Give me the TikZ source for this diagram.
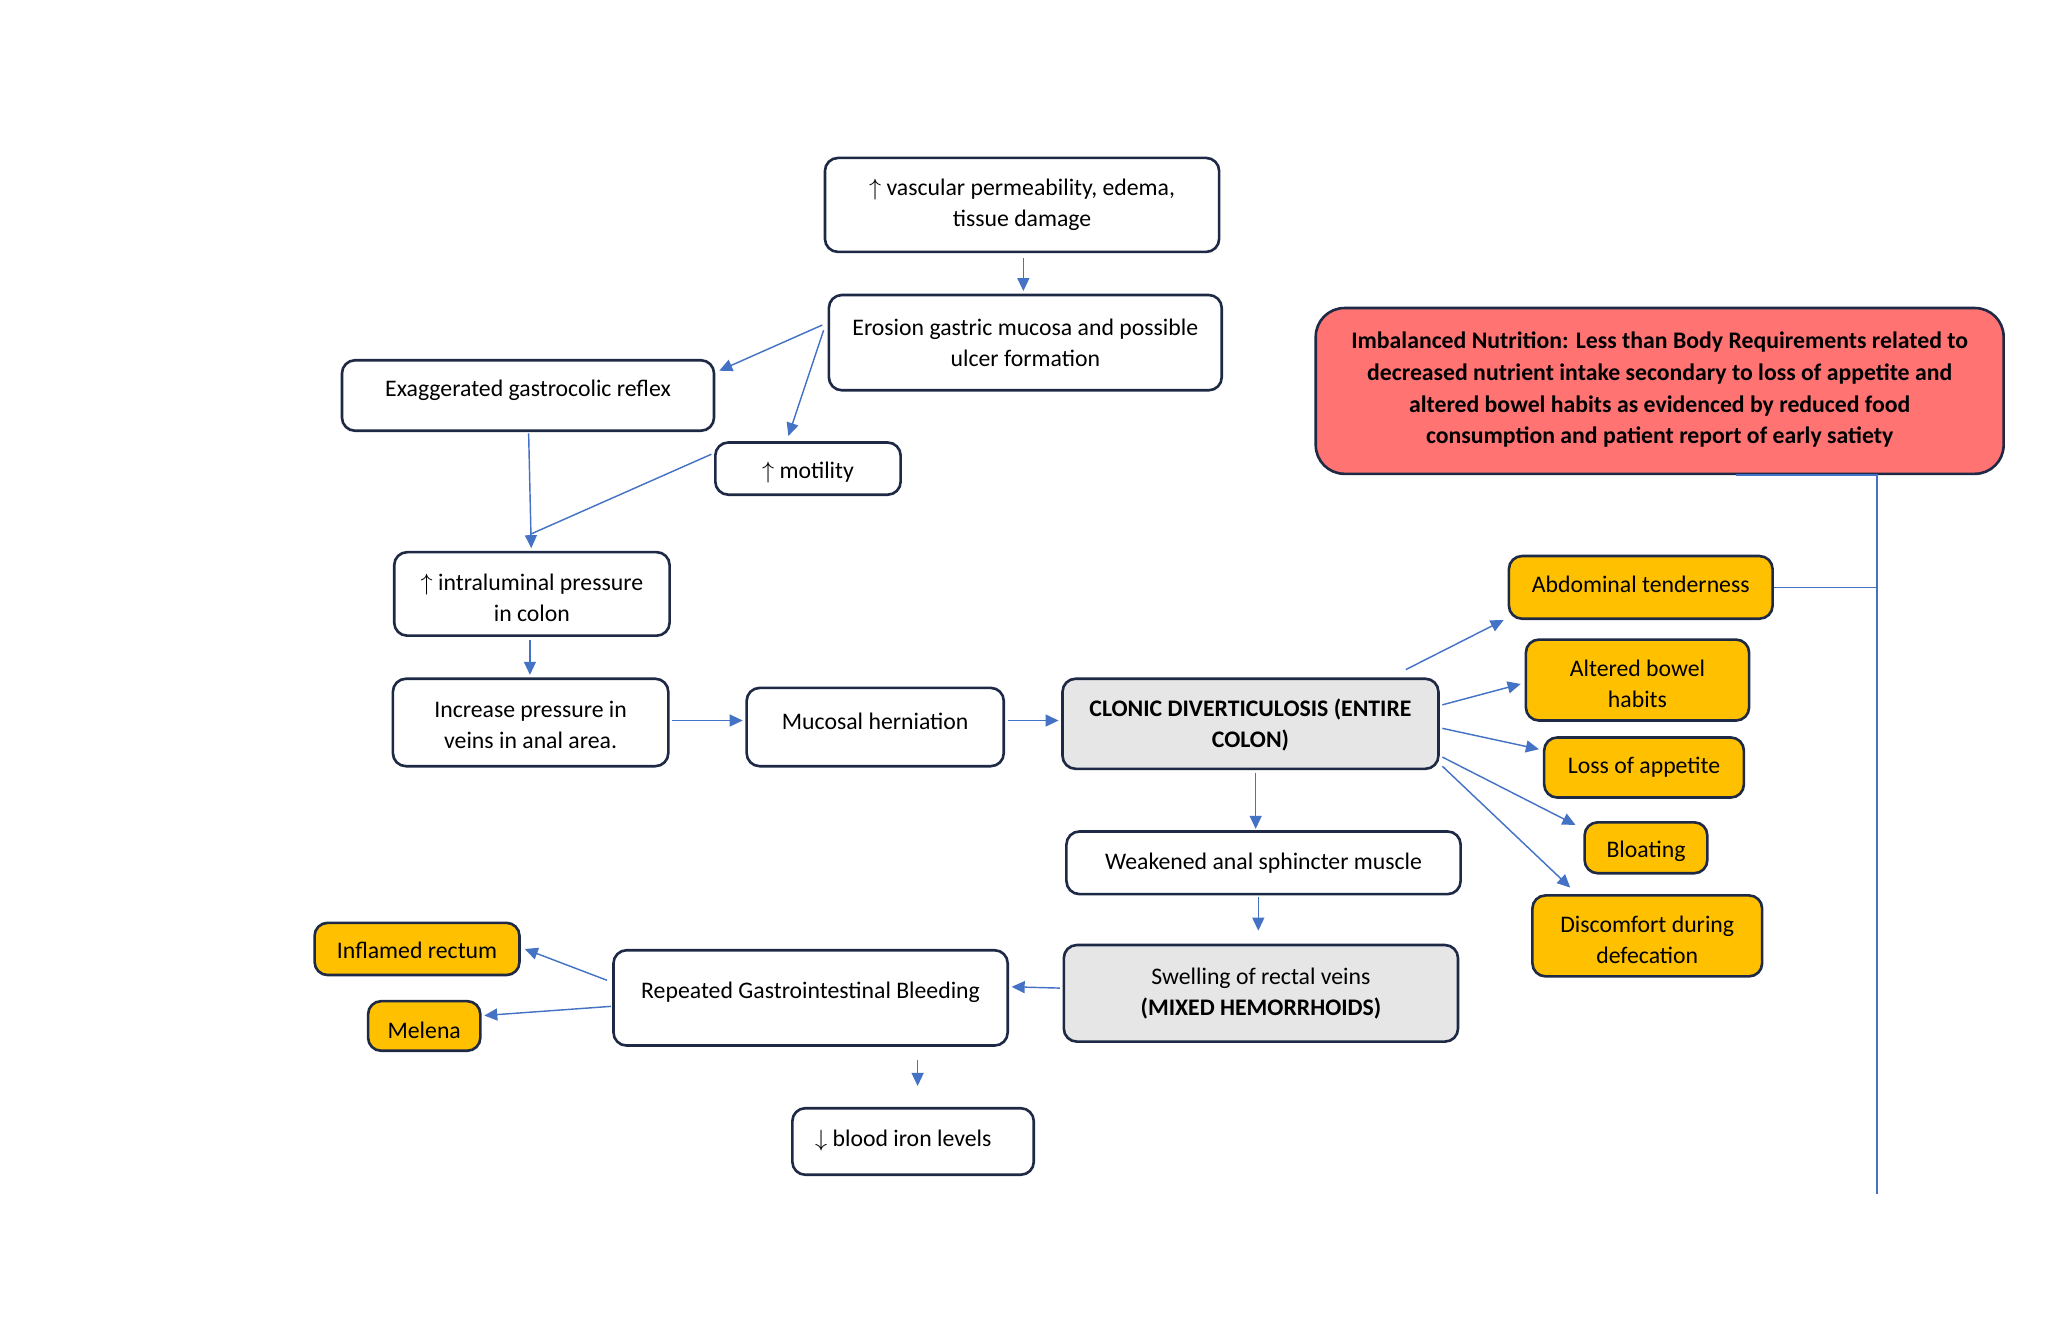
\documentclass[tikz,border=0pt]{standalone}
\usepackage{fontspec}
\setmainfont{Carlito}
\usetikzlibrary{arrows.meta,calc}
\definecolor{lnblue}{HTML}{4472C4}
\definecolor{navy}{HTML}{1E2A45}
\definecolor{ygold}{HTML}{FFC000}
\definecolor{rbox}{HTML}{FF7373}
\definecolor{gbox}{HTML}{E6E6E6}
\tikzset{
  box/.style={draw=navy, line width=1pt, rounded corners=5pt, fill=white, inner sep=0pt, align=center, font=\fontsize{9.1pt}{12pt}\selectfont},
  graybox/.style={box, fill=gbox},
  ybox/.style={box, fill=ygold},
  redbox/.style={box, fill=rbox, rounded corners=11pt, font=\fontsize{9.1pt}{12.2pt}\selectfont\bfseries},
  txt/.style={inner sep=0pt, align=center, font=\fontsize{9.1pt}{12pt}\selectfont},
  conn/.style={draw=lnblue, line width=0.55pt, -{Triangle[length=5pt,width=4.6pt]}},
  plain/.style={draw=lnblue, line width=0.55pt}
}
\begin{document}
\begin{tikzpicture}[x=0.5pt,y=-0.5pt]
\path[use as bounding box, fill=white] (0,0) rectangle (1569,1026);

% main chain
\node[box, minimum width=151pt, minimum height=36pt] (a) at (783,157) {$\uparrow$ vascular permeability, edema,\\ tissue damage};
\node[box, minimum width=150.5pt, minimum height=36.5pt] (b) at (785.5,262.5) {Erosion gastric mucosa and possible\\ ulcer formation};
\node[box, minimum width=142.5pt, minimum height=27pt] (c) at (404.5,303) {};
\node[txt] (ct) at (404.5,299) {Exaggerated gastrocolic reflex};
\node[box, minimum width=71pt, minimum height=20pt] (d) at (619,359) {};
\node[txt] (dt) at (619,362) {$\uparrow$ motility};
\node[box, minimum width=105.5pt, minimum height=32pt] (e) at (407.5,455) {};
\node[txt] (et) at (407.5,458) {$\uparrow$ intraluminal pressure\\ in colon};
\node[box, minimum width=105.5pt, minimum height=33.5pt] (f) at (406.5,553.5) {};
\node[txt] (ft) at (406.5,555.5) {Increase pressure in\\ veins in anal area.};
\node[box, minimum width=98.5pt, minimum height=30pt] (g) at (670.5,557) {};
\node[txt] (gt) at (670.5,552.5) {Mucosal herniation};
\node[graybox, minimum width=144pt, minimum height=34.5pt] (h) at (958,554.5) {};
\node[txt, font=\fontsize{9.1pt}{12pt}\selectfont\bfseries] (ht) at (958,555.5) {CLONIC DIVERTICULOSIS (ENTIRE\\ COLON)};
\node[box, minimum width=151pt, minimum height=24pt] (i) at (968,661) {Weakened anal sphincter muscle};
\node[graybox, minimum width=151pt, minimum height=37pt] (j) at (966,761) {Swelling of rectal veins\\ \textbf{(MIXED HEMORRHOIDS)}};
\node[box, minimum width=151pt, minimum height=36.5pt] (k) at (621,764.5) {};
\node[txt] (kt) at (621,760) {Repeated Gastrointestinal Bleeding};
\node[box, minimum width=92.5pt, minimum height=25.5pt] (l) at (699.5,874.5) {};
\node[txt] (lt) at (692,874) {$\downarrow$ blood iron levels};

% yellow boxes
\node[ybox, minimum width=78.5pt, minimum height=20pt] (y1) at (319.5,727) {};
\node[txt] (y1t) at (319.5,728) {Inflamed rectum};
\node[ybox, minimum width=43pt, minimum height=19pt] (y2) at (325,786) {};
\node[txt] (y2t) at (325,789) {Melena};
\node[ybox, minimum width=101pt, minimum height=24pt] (y3) at (1257,450) {};
\node[txt] (y3t) at (1257,448) {Abdominal tenderness};
\node[ybox, minimum width=85.5pt, minimum height=31pt] (y4) at (1254.5,521) {};
\node[txt] (y4t) at (1254.5,524) {Altered bowel\\ habits};
\node[ybox, minimum width=76.5pt, minimum height=23pt] (y5) at (1259.5,588) {Loss of appetite};
\node[ybox, minimum width=47pt, minimum height=19.5pt] (y6) at (1261,649.5) {};
\node[txt] (y6t) at (1261,652.5) {Bloating};
\node[ybox, minimum width=88pt, minimum height=31pt] (y7) at (1262,717) {};
\node[txt] (y7t) at (1262,720) {Discomfort during\\ defecation};

% red box
\node[redbox, minimum width=263.5pt, minimum height=63.5pt] (r) at (1271.5,299.5) {};
\node[txt, font=\fontsize{9.1pt}{12.2pt}\selectfont\bfseries] (rt) at (1271.5,298.5) {Imbalanced Nutrition: Less than Body Requirements related to\\ decreased nutrient intake secondary to loss of appetite and\\ altered bowel habits as evidenced by reduced food\\ consumption and patient report of early satiety};

\coordinate (bus) at (1438,915);
\coordinate (jn) at ($(e.north)+(-0.5,-13)$);

% connectors
\draw[conn] ($(a.south)+(1,4)$) -- ($(b.north)+(-1.5,-2)$);
\draw[conn] ($(b.west)+(-4,-13.5)$) -- ($(c.east)+(3,-19)$);
\draw[conn] ($(b.west)+(-3,-9.5)$) -- ($(d.north)+(-15,-4)$);
\draw[conn] ($(c.south)+(0.5,1)$) -- ($(e.north)+(-0.5,-2)$);
\draw[plain] ($(d.west)+(-2,-11)$) -- (jn);
\draw[conn] ($(e.south)+(-1.5,2)$) -- ($(f.north)+(-0.5,-2)$);
\draw[conn] ($(f.east)+(2,-1.5)$) -- ($(g.west)+(-2,-5)$);
\draw[conn] ($(g.east)+(2,-5)$) -- ($(h.west)+(-2,-2.5)$);
\draw[conn] ($(h.north)+(119,-6)$) -- ($(y3.south west)+(-3,0)$);
\draw[conn] ($(h.east)+(2,-14.5)$) -- ($(y4.west)+(-3,3)$);
\draw[conn] ($(h.east)+(2,3.5)$) -- ($(y5.west)+(-3,-14)$);
\draw[conn] ($(h.east)+(2,25.5)$) -- ($(y6.north west)+(-6,3)$);
\draw[conn] ($(h.south east)+(2,-3)$) -- ($(y7.north)+(-59,-5)$);
\draw[conn] ($(h.south)+(4,2)$) -- ($(i.north)+(-6,-1)$);
\draw[conn] ($(i.south)+(-4,1)$) -- ($(j.north)+(-2,-10)$);
\draw[conn] ($(j.west)+(-2,-4)$) -- ($(k.east)+(2,-8.5)$);
\draw[conn] ($(k.west)+(-4,-13.5)$) -- ($(y1.east)+(3,0)$);
\draw[conn] ($(k.west)+(-1,6.5)$) -- ($(y2.east)+(2,-8)$);
\draw[conn] ($(k.south)+(82,10)$) -- ($(l.north)+(3.5,-16)$);

% red box bracket
\draw[plain] ($(r.south)+(58.5,0)$) -| (bus);
\draw[plain] (y3.east) -- (y3.east -| bus);
\draw[plain] ($(y7.east)+(0,-4)$) -- ($(y7.east)+(0,-4)$ -| bus);
\end{tikzpicture}
\end{document}
